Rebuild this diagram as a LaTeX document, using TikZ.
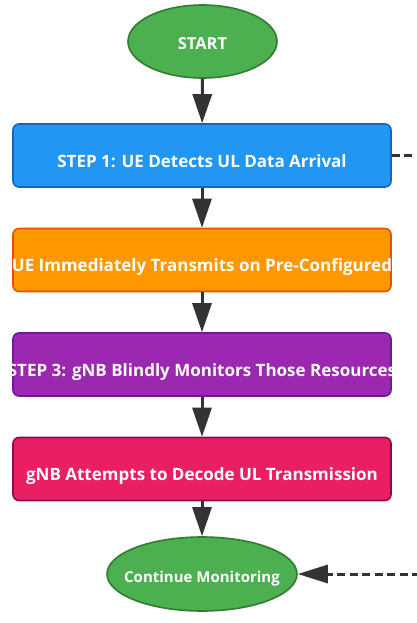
\documentclass[tikz,border=0pt]{standalone}
\usepackage{fontspec}
\setmainfont{Open Sans}
\usetikzlibrary{shapes.geometric,arrows.meta}
\definecolor{gfill}{HTML}{4CAF50}
\definecolor{gline}{HTML}{2E7D32}
\definecolor{bfill}{HTML}{2196F3}
\definecolor{bline}{HTML}{1565C0}
\definecolor{ofill}{HTML}{FF9800}
\definecolor{oline}{HTML}{E65100}
\definecolor{pfill}{HTML}{9C27B0}
\definecolor{pline}{HTML}{6A1B9A}
\definecolor{rfill}{HTML}{E91E63}
\definecolor{rline}{HTML}{880E4F}
\definecolor{arrc}{HTML}{333333}
\tikzset{
  oval/.style={ellipse, line width=1.6pt, inner sep=0pt},
  stepbox/.style={rectangle, rounded corners=6pt, line width=1.6pt, minimum width=378pt, minimum height=63pt, inner sep=0pt},
  txt/.style={text=white, font=\bfseries\fontsize{17}{20}\selectfont, inner sep=0pt, anchor=base, yshift=-11.5pt},
  starttxtstyle/.style={text=white, font=\bfseries\fontsize{16.5}{19}\selectfont, inner sep=0pt, anchor=base, yshift=-8.5pt},
  smalltxt/.style={text=white, font=\bfseries\fontsize{15}{18}\selectfont, inner sep=0pt, anchor=base, yshift=-8.5pt},
  arr/.style={draw=arrc, line width=3pt, -{Triangle[width=19pt,length=29pt]}},
  dashline/.style={draw=arrc, line width=3pt, dash pattern=on 8pt off 4.5pt}
}
\begin{document}
\begin{tikzpicture}[x=1pt,y=-1pt]
\useasboundingbox (0,0) rectangle (417,623);
\fill[white] (0,0) rectangle (417,623);
\node[oval, fill=gfill, draw=gline, minimum width=149pt, minimum height=73pt] (start) at (202.5,41.5) {};
\node[starttxtstyle] (starttxt) at (start) {START};
\node[stepbox, fill=bfill, draw=bline] (s1) at (202,155.5) {};
\node[stepbox, fill=ofill, draw=oline] (s2) at (202,260) {};
\node[stepbox, fill=pfill, draw=pline] (s3) at (202,364.5) {};
\node[stepbox, fill=rfill, draw=rline] (s4) at (202,469) {};
\node[oval, fill=gfill, draw=gline, minimum width=190pt, minimum height=74pt] (cont) at (202,574) {};
\node[smalltxt] (conttxt) at (cont) {Continue Monitoring};
\begin{scope}
\clip[rounded corners=6pt] (s1.south west) rectangle (s1.north east);
\node[txt] (t1) at (s1) {STEP 1: UE Detects UL Data Arrival};
\end{scope}
\begin{scope}
\clip[rounded corners=6pt] (s2.south west) rectangle (s2.north east);
\node[txt] (t2) at (s2) {UE Immediately Transmits on Pre-Configured};
\end{scope}
\begin{scope}
\clip[rounded corners=6pt] (s3.south west) rectangle (s3.north east);
\node[txt] (t3) at (s3) {STEP 3: gNB Blindly Monitors Those Resources};
\end{scope}
\begin{scope}
\clip[rounded corners=6pt] (s4.south west) rectangle (s4.north east);
\node[txt] (t4) at (s4) {gNB Attempts to Decode UL Transmission};
\end{scope}
\draw[arr] (start) -- (s1);
\draw[arr] (s1) -- (s2);
\draw[arr] (s2) -- (s3);
\draw[arr] (s3) -- (s4);
\draw[arr] (s4) -- (cont);
\coordinate (r1) at (420,155.5);
\coordinate (r2) at (420,574);
\draw[dashline] (s1.east) -- (r1);
\draw[dashline, -{Triangle[width=18pt,length=30pt]}] (r2) -- (cont.east);
\end{tikzpicture}
\end{document}
